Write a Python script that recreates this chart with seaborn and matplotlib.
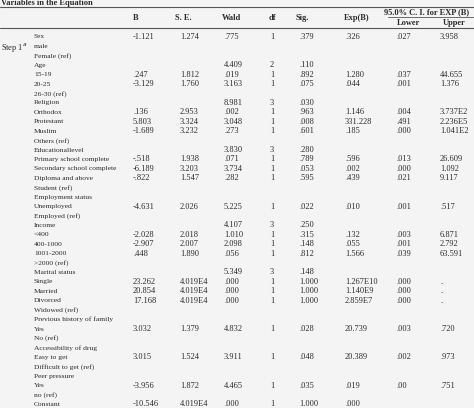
import matplotlib
matplotlib.use("Agg")
import matplotlib.pyplot as plt
import seaborn as sns

sns.set_theme(style="white")
plt.rcParams['font.family'] = ['Liberation Serif', 'DejaVu Serif']

labels = ["Sex", "male", "Female (ref)", "Age", "15-19", "20-25", "26-30 (ref)",
          "Religion", "Orthodox", "Protestant", "Muslim", "Others (ref)",
          "Educationallevel", "Primary school complete", "Secondary school complete",
          "Diploma and above", "Student (ref)", "Employment status", "Unemployed",
          "Employed (ref)", "Income", "<400", "400-1000", "1001-2000", ">2000 (ref)",
          "Marital status", "Single", "Married", "Divorced", "Widowed (ref)",
          "Previous history of family", "Yes", "No (ref)", "Accessibility of drug",
          "Easy to get", "Difficult to get (ref)", "Peer pressure", "Yes", "no (ref)",
          "Constant"]
B = ["-1.121", "", "", "", ".247", "-3.129", "", "", ".136", "5.803", "-1.689", "",
     "", "-.518", "-6.189", "-.822", "", "", "-4.631", "", "", "-2.028", "-2.907", ".448", "",
     "", "23.262", "20.854", "17.168", "", "", "3.032", "", "", "3.015", "", "", "-3.956", "",
     "-10.546"]
SE = ["1.274", "", "", "", "1.812", "1.760", "", "", "2.953", "3.324", "3.232", "",
      "", "1.938", "3.203", "1.547", "", "", "2.026", "", "", "2.018", "2.007", "1.890", "",
      "", "4.019E4", "4.019E4", "4.019E4", "", "", "1.379", "", "", "1.524", "", "", "1.872", "",
      "4.019E4"]
wald = [".775", "", "", "4.409", ".019", "3.163", "", "8.981", ".002", "3.048", ".273", "",
        "3.830", ".071", "3.734", ".282", "", "", "5.225", "", "4.107", "1.010", "2.098", ".056", "",
        "5.349", ".000", ".000", ".000", "", "", "4.832", "", "", "3.911", "", "", "4.465", "",
        ".000"]
df = ["1", "", "", "2", "1", "1", "", "3", "1", "1", "1", "",
      "3", "1", "1", "1", "", "", "1", "", "3", "1", "1", "1", "",
      "3", "1", "1", "1", "", "", "1", "", "", "1", "", "", "1", "", "1"]
sig = [".379", "", "", ".110", ".892", ".075", "", ".030", ".963", ".008", ".601", "",
       ".280", ".789", ".053", ".595", "", "", ".022", "", ".250", ".315", ".148", ".812", "",
       ".148", "1.000", "1.000", "1.000", "", "", ".028", "", "", ".048", "", "", ".035", "",
       "1.000"]
expb = [".326", "", "", "", "1.280", ".044", "", "", "1.146", "331.228", ".185", "",
        "", ".596", ".002", ".439", "", "", ".010", "", "", ".132", ".055", "1.566", "",
        "", "1.267E10", "1.140E9", "2.859E7", "", "", "20.739", "", "", "20.389", "", "", ".019", "",
        ".000"]
lower = [".027", "", "", "", ".037", ".001", "", "", ".004", ".491", ".000", "",
         "", ".013", ".000", ".021", "", "", ".001", "", "", ".003", ".001", ".039", "",
         "", ".000", ".000", ".000", "", "", ".003", "", "", ".002", "", "", ".00", "", ""]
upper = ["3.958", "", "", "", "44.655", "1.376", "", "", "3.737E2", "2.236E5", "1.041E2", "",
         "", "26.609", "1.092", "9.117", "", "", ".517", "", "", "6.871", "2.792", "63.591", "",
         "", ".", ".", ".", "", "", ".720", "", "", ".973", "", "", ".751", "", ""]

columns = [B, SE, wald, df, sig, expb, lower, upper]
col_x = [133, 180, 224, 270, 299, 345, 396, 440]
headers = ["B", "S. E.", "Wald", "df", "Sig.", "Exp(B)"]
header_x = [136, 183, 232, 272, 302, 357]

fig = plt.figure(figsize=(4.74, 4.08), dpi=100)
fig.patch.set_facecolor("#f4f4f4")
ax = fig.add_axes([0, 0, 1, 1])
ax.set_facecolor("#f4f4f4")
ax.set_xlim(0, 474)
ax.set_ylim(408, 0)
ax.axis("off")

fs = 6.0
txt = "#2a2a2a"
ax.text(1, 3, "Variables in the Equation", fontsize=6.0, fontweight="bold", va="center", color=txt)
ax.plot([0, 474], [7, 7], color="#555555", lw=0.8)
for h, x in zip(headers, header_x):
    ax.text(x, 18, h, fontsize=fs, fontweight="bold", ha="center", va="center", color=txt)
ax.text(427, 12, "95.0% C. I. for EXP (B)", fontsize=fs, fontweight="bold", ha="center", va="center", color=txt)
ax.plot([388, 474], [17, 17], color="#555555", lw=0.6)
ax.text(408, 23, "Lower", fontsize=fs, fontweight="bold", ha="center", va="center", color=txt)
ax.text(454, 23, "Upper", fontsize=fs, fontweight="bold", ha="center", va="center", color=txt)
ax.plot([0, 474], [28, 28], color="#555555", lw=0.8)

ax.text(1, 47, "Step 1$^{a}$", fontsize=fs, va="center", color=txt)
y0, dy = 37, 9.42
for i, lab in enumerate(labels):
    y = y0 + i * dy
    ax.text(34, y, lab, fontsize=5.4, va="center", color=txt)
    for col, x in zip(columns, col_x):
        if col[i]:
            ax.text(x, y, col[i], fontsize=fs, va="center", color=txt)

fig.savefig("out.png", dpi=100, facecolor=fig.get_facecolor())
